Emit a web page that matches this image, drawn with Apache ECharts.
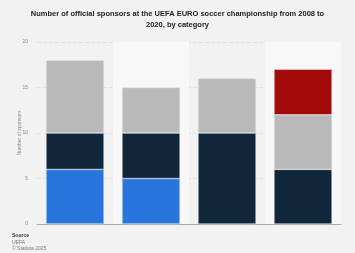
<!DOCTYPE html>
<html><head><meta charset="utf-8">
<script src="https://cdn.jsdelivr.net/npm/echarts@6/dist/echarts.min.js"></script>
<style>html,body{margin:0;padding:0;background:#f2f2f2;}#c{width:355px;height:253px;}</style>
</head><body><div id="c"></div>
<script>
const categories = ['2008', '2012', '2016', '2020'];
const seriesNames = ['National supporters', 'Official sponsors', 'Commercial partners', 'Global sponsors'];
const blueValues = [6, 5, 0, 0];
const navyValues = [4, 5, 10, 6];
const greyValues = [8, 5, 6, 6];
const redValues = [0, 0, 0, 5];
const yTicks = [0, 5, 10, 15, 20];

const colors = ['#2876dd', '#10263b', '#b9b9b9', '#a50a0a'];
const allValues = [blueValues, navyValues, greyValues, redValues];

const chart = echarts.init(document.getElementById('c'), null, {renderer: 'canvas'});
chart.setOption({
  backgroundColor: '#f2f2f2',
  animation: false,
  title: {
    text: 'Number of official sponsors at the UEFA EURO soccer championship from 2008 to\n2020, by category',
    left: 'center', top: 3,
    textStyle: {fontFamily: 'Liberation Sans', fontSize: 7.5, fontWeight: 'bold', color: '#222', lineHeight: 11}
  },
  graphic: [
    {type: 'text', left: 12, top: 233, style: {text: 'Source', font: 'bold 5px Liberation Sans', fill: '#333'}},
    {type: 'text', left: 12, top: 240, style: {text: 'UEFA', font: '5px Liberation Sans', fill: '#777'}},
    {type: 'text', left: 12, top: 246, style: {text: '© Statista 2025', font: '5px Liberation Sans', fill: '#777'}}
  ],
  grid: {left: 37, right: 14, top: 42, bottom: 29},
  xAxis: {
    type: 'category', data: categories,
    axisLine: {lineStyle: {color: '#aaa', width: 1}},
    axisTick: {show: false},
    axisLabel: {show: false},
    splitArea: {show: true, areaStyle: {color: ['rgba(0,0,0,0)', '#f8f8f8']}}
  },
  yAxis: {
    type: 'value', min: yTicks[0], max: yTicks[yTicks.length - 1], interval: 5,
    name: 'Number of sponsors', nameLocation: 'middle', nameGap: 15, nameMoveOverlap: false,
    nameTextStyle: {fontFamily: 'Liberation Sans', fontSize: 5, color: '#888'},
    axisLine: {show: false}, axisTick: {show: false},
    axisLabel: {fontFamily: 'Liberation Sans', fontSize: 5, color: '#888', margin: 9},
    splitLine: {lineStyle: {color: '#e2e2e2', width: 1, type: [4, 2]}}
  },
  series: seriesNames.map((n, i) => ({
    name: n, type: 'bar', stack: 'total', barWidth: 58,
    data: allValues[i].map(v => v === 0 ? null : v),
    itemStyle: {color: colors[i], borderColor: '#e6e6e6', borderWidth: 0.5}
  }))
});
</script></body></html>
